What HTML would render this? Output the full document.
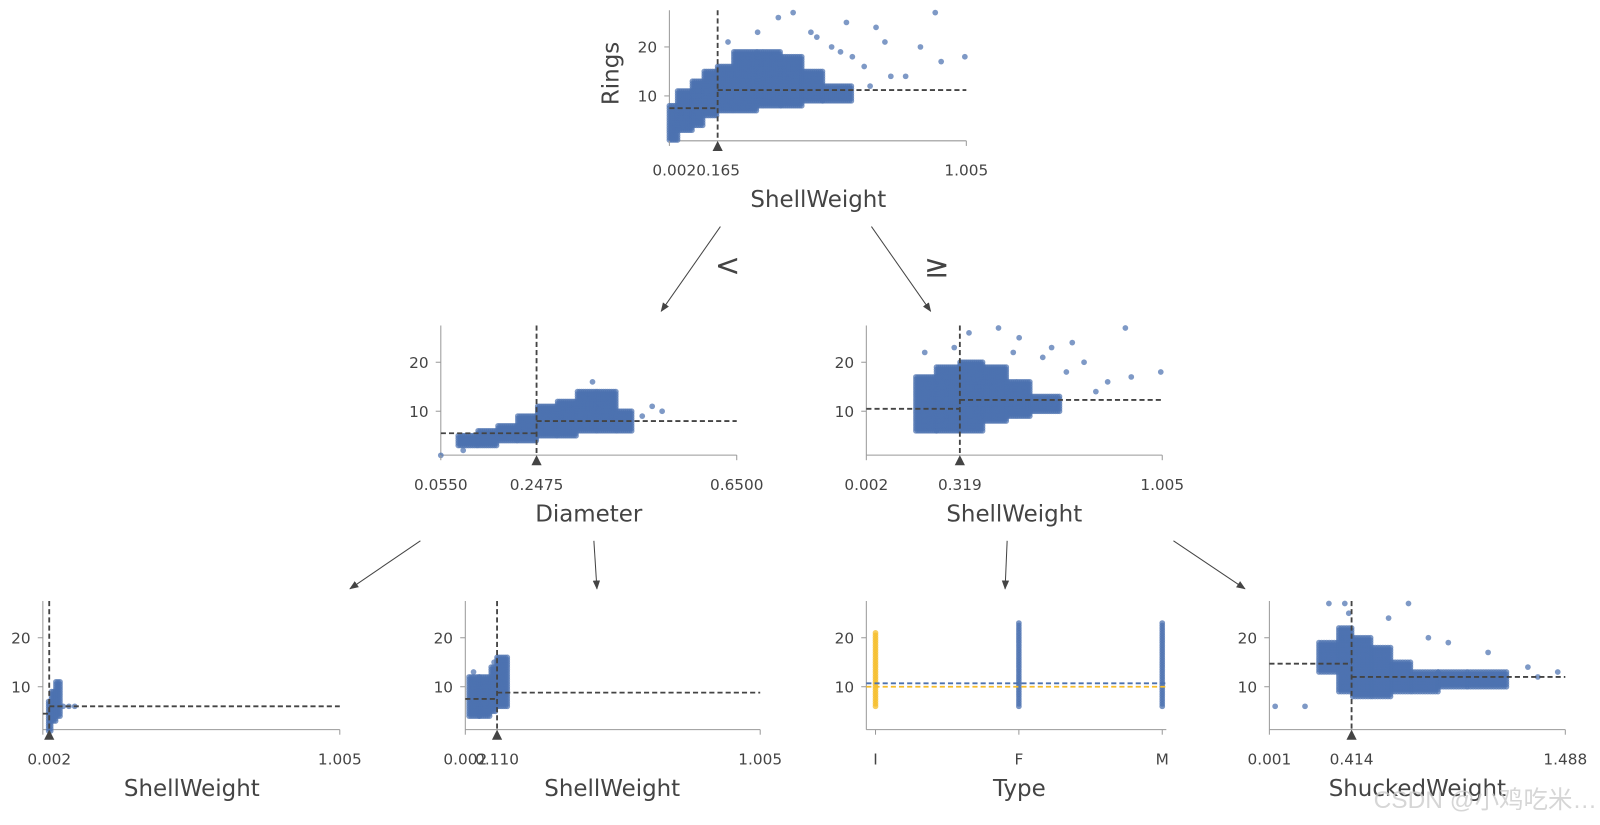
<!DOCTYPE html>
<html><head><meta charset="utf-8"><style>
html,body{margin:0;padding:0;background:#fff;}
svg{display:block;font-family:"DejaVu Sans","Liberation Sans",sans-serif;}
</style></head><body>
<svg id="chart" width="1600" height="825" viewBox="0 0 1568 808.5" xmlns="http://www.w3.org/2000/svg">
<defs>
<marker id="ah" viewBox="0 0 10 10" refX="9" refY="5" markerWidth="9" markerHeight="9" orient="auto"><path d="M0,1 L10,5 L0,9 z" fill="#444"/></marker>
</defs>
<g id="arrows">
<line x1="706" y1="222" x2="648" y2="305" stroke="#444" stroke-width="1" marker-end="url(#ah)"/>
<line x1="854" y1="222" x2="912" y2="305" stroke="#444" stroke-width="1" marker-end="url(#ah)"/>
<line x1="412" y1="530" x2="343" y2="577" stroke="#444" stroke-width="1" marker-end="url(#ah)"/>
<line x1="582" y1="530" x2="585" y2="577" stroke="#444" stroke-width="1" marker-end="url(#ah)"/>
<line x1="987" y1="530" x2="985" y2="577" stroke="#444" stroke-width="1" marker-end="url(#ah)"/>
<line x1="1150" y1="530" x2="1220" y2="577" stroke="#444" stroke-width="1" marker-end="url(#ah)"/>
<text x="713" y="270" font-size="30" fill="#444" text-anchor="middle">&lt;</text>
<text x="918" y="271" font-size="30" fill="#444" text-anchor="middle">≥</text>
</g>
</svg>
<script>
// Panel 1: root ShellWeight
const rootXStart=[0.002,0.03,0.08,0.12,0.165,0.22,0.3,0.38,0.45,0.52];
const rootXEnd=[0.03,0.08,0.12,0.165,0.22,0.3,0.38,0.45,0.52,0.62];
const rootLo=[1,3,4,6,7,7,8,8,9,9];
const rootHi=[8,11,13,15,16,19,19,18,15,12];
const rootOutX=[0.2,0.3,0.37,0.42,0.48,0.5,0.55,0.6,0.62,0.7,0.73,0.8,0.85,0.9,0.92,1.0,0.66,0.58,0.75,0.68];
const rootOutY=[21,23,26,27,23,22,20,25,18,24,21,14,20,27,17,18,16,19,14,12];
// Panel 2: Diameter
const dXStart=[0.09,0.13,0.17,0.21,0.25,0.29,0.33,0.37,0.41];
const dXEnd=[0.13,0.17,0.21,0.25,0.29,0.33,0.37,0.41,0.44];
const dLo=[3,3,4,4,5,5,6,6,6];
const dHi=[5,6,7,9,11,12,14,14,10];
const dOutX=[0.055,0.1,0.46,0.48,0.5,0.36];
const dOutY=[1,2,9,11,10,16];
// Panel 3: ShellWeight (>=)
const sXStart=[0.17,0.24,0.32,0.4,0.48,0.56];
const sXEnd=[0.24,0.32,0.4,0.48,0.56,0.66];
const sLo=[6,6,6,8,9,10];
const sHi=[17,19,20,19,16,13];
const sOutX=[0.2,0.3,0.35,0.45,0.5,0.52,0.6,0.63,0.7,0.74,0.78,0.88,0.9,1.0,0.82,0.68];
const sOutY=[22,23,26,27,22,25,21,23,24,20,14,27,17,18,16,18];
// Panel 4: ShellWeight small
const blXStart=[0.0,0.01,0.025];
const blXEnd=[0.01,0.025,0.04];
const blLo=[1,3,4];
const blHi=[7,9,11];
const blOutX=[0.05,0.07,0.09];
const blOutY=[6,6,6];
// Panel 5: ShellWeight 0.110
const b2XStart=[0.015,0.05,0.09,0.11];
const b2XEnd=[0.05,0.09,0.11,0.15];
const b2Lo=[4,4,5,6];
const b2Hi=[12,12,14,16];
const b2OutX=[0.03,0.1];
const b2OutY=[13,15];
// Panel 6: Type
const typeCats=["I","F","M"];
const typeLo=[6,6,6];
const typeHi=[21,23,23];
const typeMeanBlue=10.7, typeMeanYellow=10;
// Panel 7: ShuckedWeight
const swXStart=[0.25,0.35,0.42,0.52,0.62,0.72,0.85,1.0];
const swXEnd=[0.35,0.42,0.52,0.62,0.72,0.85,1.0,1.2];
const swLo=[13,9,8,8,9,9,10,10];
const swHi=[19,22,20,18,15,13,13,13];
const swOutX=[0.03,0.18,0.3,0.38,0.4,0.6,0.7,0.8,0.9,1.1,1.3,1.45,1.35];
const swOutY=[6,6,27,27,25,24,27,20,19,17,14,13,12];

const panels=[
 {name:"root",x0:656,x1:947,ax:138,y10:94,y20:46,top:10,d0:0.002,d1:1.005,split:0.165,ticks:[["0.002",0.002,-1],["0.165",0.165,1],["1.005",1.005,0]],label:"ShellWeight",lx:802,ylab:true,means:[7.5,11.2],xs:rootXStart,xe:rootXEnd,lo:rootLo,hi:rootHi,ox:rootOutX,oy:rootOutY,step:2},
 {name:"diameter",x0:432,x1:722,ax:446,y10:403,y20:355,top:319,d0:0.055,d1:0.65,split:0.2475,ticks:[["0.0550",0.055,0],["0.2475",0.2475,0],["0.6500",0.65,0]],label:"Diameter",lx:577,means:[5.5,8],xs:dXStart,xe:dXEnd,lo:dLo,hi:dHi,ox:dOutX,oy:dOutY,step:2},
 {name:"shellweight-right",x0:849,x1:1139,ax:446,y10:403,y20:355,top:319,d0:0.002,d1:1.005,split:0.319,ticks:[["0.002",0.002,0],["0.319",0.319,0],["1.005",1.005,0]],label:"ShellWeight",lx:994,means:[10.5,12.3],xs:sXStart,xe:sXEnd,lo:sLo,hi:sHi,ox:sOutX,oy:sOutY,step:2},
 {name:"shellweight-ll",x0:42,x1:333,ax:715,y10:673,y20:625,top:589,d0:-0.02,d1:1.005,split:0.002,ticks:[["0.002",0.002,0],["1.005",1.005,0]],label:"ShellWeight",lx:188,means:[4.5,6],xs:blXStart,xe:blXEnd,lo:blLo,hi:blHi,ox:blOutX,oy:blOutY,step:2},
 {name:"shellweight-lr",x0:456,x1:745,ax:715,y10:673,y20:625,top:589,d0:0.002,d1:1.005,split:0.110,ticks:[["0.002",0.002,0],["0.110",0.110,0],["1.005",1.005,0]],label:"ShellWeight",lx:600,means:[7.5,8.8],xs:b2XStart,xe:b2XEnd,lo:b2Lo,hi:b2Hi,ox:b2OutX,oy:b2OutY,step:2},
 {name:"shuckedweight",x0:1244,x1:1534,ax:715,y10:673,y20:625,top:589,d0:0.001,d1:1.488,split:0.414,ticks:[["0.001",0.001,0],["0.414",0.414,0],["1.488",1.488,0]],label:"ShuckedWeight",lx:1389,means:[14.7,12],xs:swXStart,xe:swXEnd,lo:swLo,hi:swHi,ox:swOutX,oy:swOutY,step:2.5}
];
const svg=document.getElementById('chart');
const NS="http://www.w3.org/2000/svg";
function mk(tag,attrs,parent){const e=document.createElementNS(NS,tag);for(const k in attrs)e.setAttribute(k,attrs[k]);(parent||svg).appendChild(e);return e;}
const BLUE="#4c72b0", YEL="#f6bd2b", DK="#444";
function axes(p,g){
  const yS=v=>p.y10+(v-10)*(p.y20-p.y10)/10;
  const a1=mk('line',{x1:p.x0,y1:p.top,x2:p.x0,y2:p.ax,stroke:"#999","stroke-width":1},g);
  
  
  const a2=mk('line',{x1:p.x0,y1:p.ax,x2:p.x1,y2:p.ax,stroke:"#999","stroke-width":1},g);
  
  
  [10,20].forEach(v=>{
    mk('line',{x1:p.x0-5,y1:yS(v),x2:p.x0,y2:yS(v),stroke:"#999"},g);
    const t=mk('text',{x:p.x0-12,y:yS(v)+5.5,"font-size":15,fill:DK,"text-anchor":"end"},g);t.textContent=v;
    
    
  });
  return yS;
}
panels.forEach(p=>{
  const g=mk('g',{});
  
  
  const yS=axes(p,g);
  const xS=v=>p.x0+(v-p.d0)/(p.d1-p.d0)*(p.x1-p.x0);
  const pts=mk('g',{fill:BLUE,"fill-opacity":0.72},g);
  
  
  for(let i=0;i<p.xs.length;i++){
    const xa=xS(p.xs[i]),xb=xS(p.xe[i]);
    for(let x=xa;x<=xb;x+=p.step){
      for(let r=p.lo[i];r<=p.hi[i];r+=0.5){
        mk('circle',{cx:x.toFixed(1),cy:yS(r).toFixed(1),r:2.8},pts);
      }
    }
  }
  for(let i=0;i<p.ox.length;i++){
    const c=mk('circle',{cx:xS(p.ox[i]),cy:yS(p.oy[i]),r:2.8},pts);
    
    
  }
  const sx=xS(p.split);
  const m1=mk('line',{x1:p.x0,y1:yS(p.means[0]),x2:sx,y2:yS(p.means[0]),stroke:DK,"stroke-width":1.8,"stroke-dasharray":"5,3"},g);
  
  
  const m2=mk('line',{x1:sx,y1:yS(p.means[1]),x2:p.x1,y2:yS(p.means[1]),stroke:DK,"stroke-width":1.8,"stroke-dasharray":"5,3"},g);
  
  
  const sl=mk('line',{x1:sx,y1:p.top,x2:sx,y2:p.ax,stroke:DK,"stroke-width":1.8,"stroke-dasharray":"5,3"},g);
  
  
  const tri=mk('path',{d:`M${sx-5},${p.ax+10} L${sx+5},${p.ax+10} L${sx},${p.ax} z`,fill:DK},g);
  
  
  mk('line',{x1:p.x0,y1:p.ax,x2:p.x0,y2:p.ax+5,stroke:"#999"},g);
  mk('line',{x1:p.x1,y1:p.ax,x2:p.x1,y2:p.ax+5,stroke:"#999"},g);
  p.ticks.forEach(t=>{
    let anchor="middle", x=xS(t[1]);
    if(t[2]<0){anchor="end";x=sx-21;}
    if(t[2]>0){anchor="start";x=sx-21;}
    const e=mk('text',{x:x,y:p.ax+34,"font-size":15,fill:DK,"text-anchor":anchor},g);e.textContent=t[0];
    
    
  });
  const l=mk('text',{x:p.lx,y:p.ax+65,"font-size":22.5,fill:DK,"text-anchor":"middle"},g);l.textContent=p.label;
  
  
  if(p.ylab){const yl=mk('text',{x:0,y:0,"font-size":22.5,fill:DK,"text-anchor":"middle",transform:`translate(606,72) rotate(-90)`},g);yl.textContent="Rings";
    
    }
});
// Type panel
(function(){
  const p={x0:849,x1:1143,ax:715,y10:673,y20:625,top:589};
  const g=mk('g',{});
  
  
  const yS=axes(p,g);
  const catX=i=>858+i*(1139-858)/(typeCats.length-1);
  typeCats.forEach((c,i)=>{
    const col=i===0?YEL:BLUE;
    for(let r=typeLo[i];r<=typeHi[i];r+=0.5){
      mk('circle',{cx:catX(i),cy:yS(r),r:2.8,fill:col,"fill-opacity":0.75},g);
    }
    mk('line',{x1:catX(i),y1:p.ax,x2:catX(i),y2:p.ax+5,stroke:"#999"},g);
    const t=mk('text',{x:catX(i),y:p.ax+34,"font-size":15,fill:DK,"text-anchor":"middle"},g);t.textContent=c;
    
    
  });
  const mb=mk('line',{x1:p.x0,y1:yS(typeMeanBlue),x2:p.x1,y2:yS(typeMeanBlue),stroke:BLUE,"stroke-width":1.8,"stroke-dasharray":"5,3"},g);
  
  
  const my=mk('line',{x1:p.x0,y1:yS(typeMeanYellow),x2:p.x1,y2:yS(typeMeanYellow),stroke:YEL,"stroke-width":1.8,"stroke-dasharray":"5,3"},g);
  
  
  const l=mk('text',{x:999,y:p.ax+65,"font-size":22.5,fill:DK,"text-anchor":"middle"},g);l.textContent="Type";
  
  
})();
const wm=mk('text',{x:1565,y:792,"font-size":24,fill:"#ccc","fill-opacity":0.8,"text-anchor":"end","font-family":"Liberation Sans, Noto Sans CJK SC, sans-serif"});
wm.textContent="CSDN @小鸡吃米…";


</script>
</body></html>
